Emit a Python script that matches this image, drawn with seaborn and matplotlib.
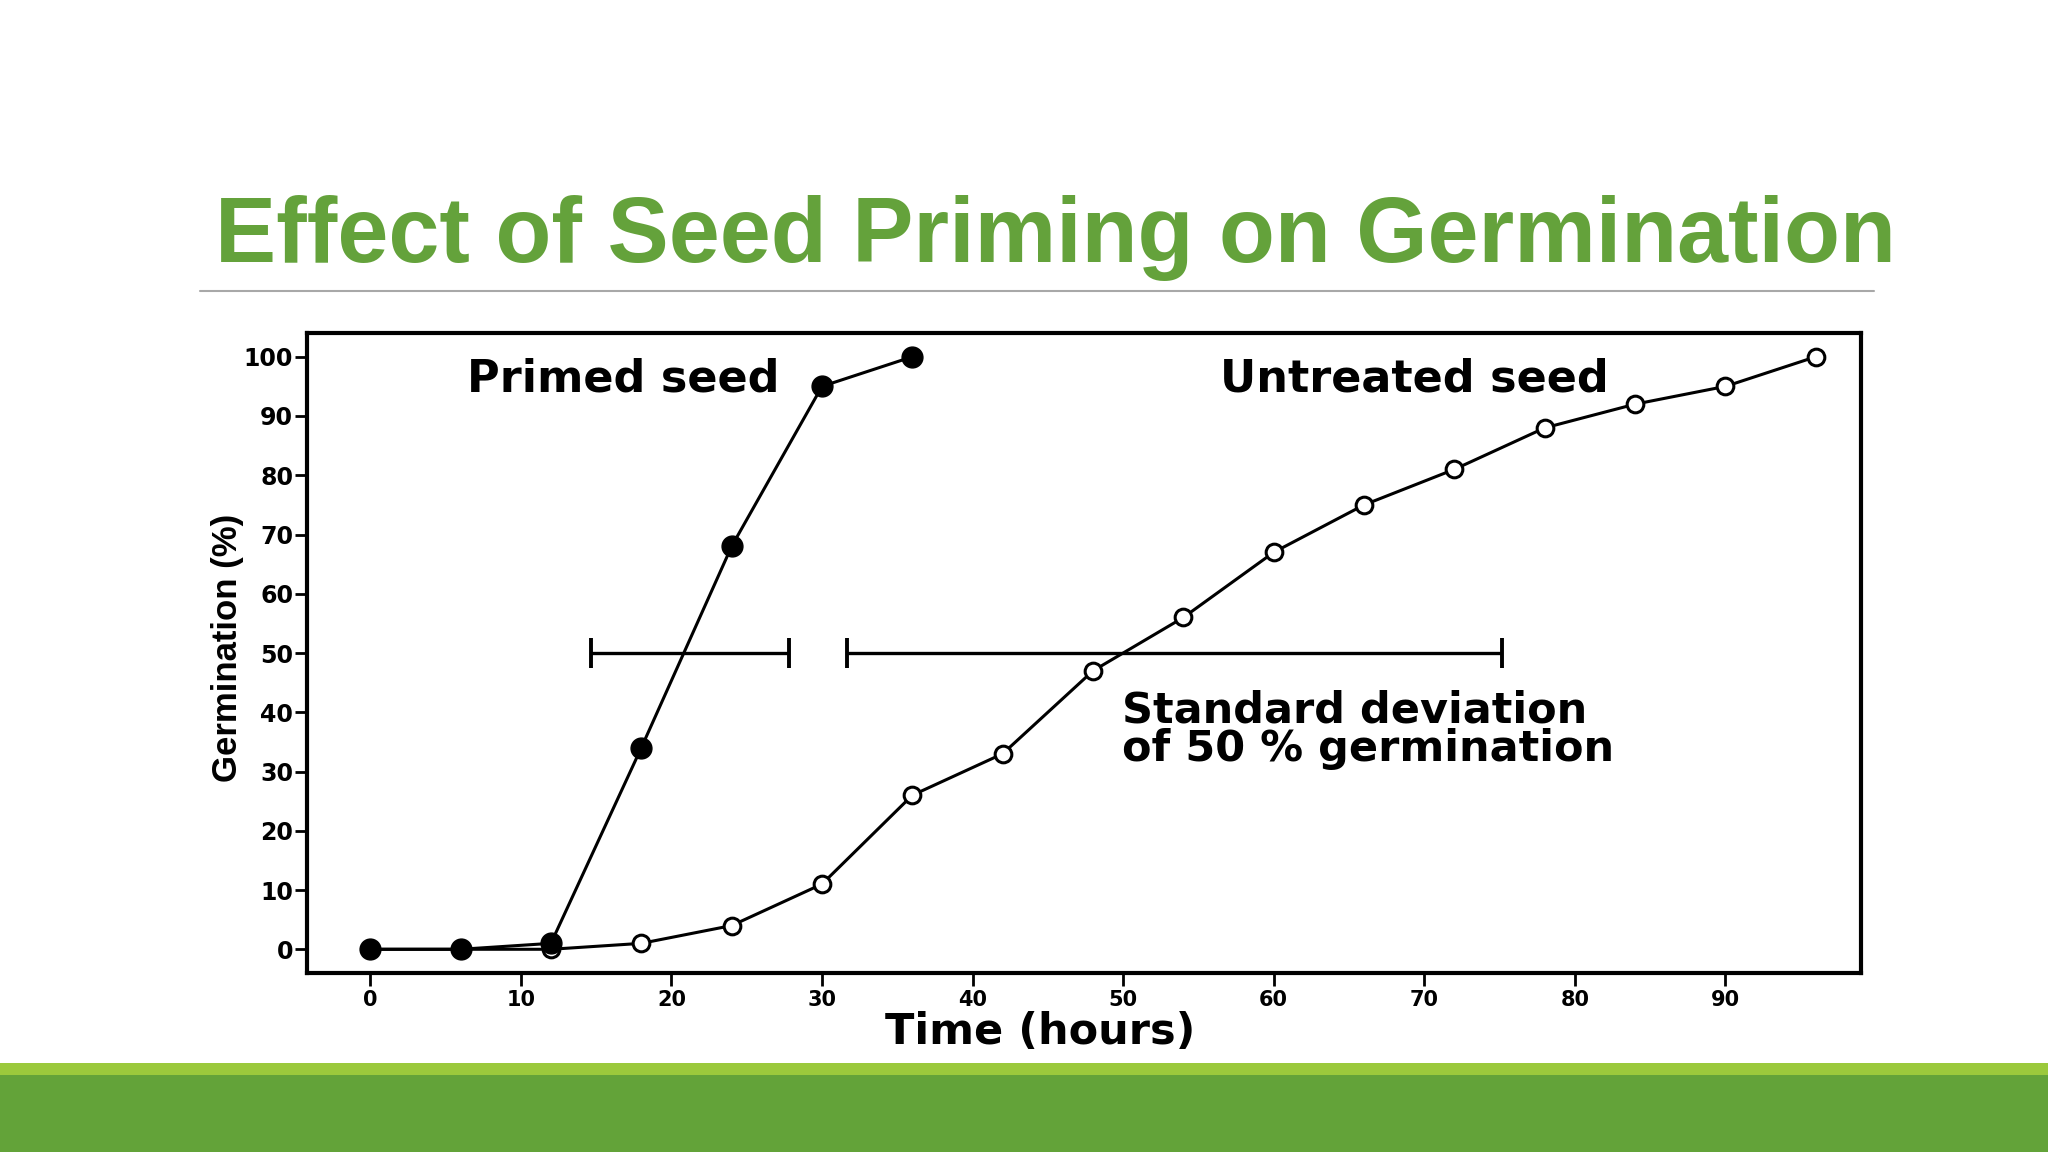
import matplotlib
matplotlib.use('Agg')
import matplotlib.pyplot as plt
import seaborn as sns
from matplotlib.lines import Line2D
from matplotlib.patches import Rectangle

# ---------------- data ----------------
primed_hours = [0, 6, 12, 18, 24, 30, 36]
primed_germ = [0, 0, 1, 34, 68, 95, 100]
untreated_hours = [0, 6, 12, 18, 24, 30, 36, 42, 48, 54, 60, 66, 72, 78, 84, 90, 96]
untreated_germ = [0, 0, 0, 1, 4, 11, 26, 33, 47, 56, 67, 75, 81, 88, 92, 95, 100]
sd_left = [14.65, 31.65]
sd_right = [27.83, 75.17]
sd_level = [50, 50]
x_ticks = list(range(0, 100, 10))
y_ticks = list(range(0, 101, 10))

title_text = "Effect of Seed Priming on Germination"
xlabel_text = "Time (hours)"
ylabel_text = "Germination (%)"
label_primed = "Primed seed"
label_untreated = "Untreated seed"
label_sd = "Standard deviation\nof 50 % germination"

# ---------------- style ----------------
sns.set_theme(style='white')
plt.rcParams['font.family'] = ['DejaVu Sans']
plt.rcParams['text.color'] = 'black'

fig = plt.figure(figsize=(20.48, 11.52), dpi=100)
fig.patch.set_facecolor('white')

# slide decorations
fig.text(215 / 2048, 1 - 262 / 1152, title_text, fontsize=66, fontweight='bold',
         family=['Liberation Sans', 'DejaVu Sans'], color='#64A23B', ha='left', va='baseline')
fig.add_artist(Line2D([200 / 2048, 1874 / 2048], [1 - 291 / 1152] * 2,
                      color='#A8A8A8', linewidth=1.5))
fig.add_artist(Rectangle((0, 0), 1, (1152 - 1075) / 1152, transform=fig.transFigure,
                         facecolor='#63A339', edgecolor='none'))
fig.add_artist(Rectangle((0, (1152 - 1075) / 1152), 1, 12 / 1152, transform=fig.transFigure,
                         facecolor='#9BC93C', edgecolor='none'))

ax = fig.add_axes([0.1499, 0.1554, 0.7588, 0.5555])
ax.set_facecolor('white')

sns.lineplot(x=untreated_hours, y=untreated_germ, ax=ax, color='black', linewidth=2.2,
             marker='o', markersize=12, markerfacecolor='white', markeredgecolor='black',
             markeredgewidth=2.2, estimator=None, sort=False, zorder=3)
sns.lineplot(x=primed_hours, y=primed_germ, ax=ax, color='black', linewidth=2.2,
             marker='o', markersize=15, markerfacecolor='black', markeredgecolor='black',
             markeredgewidth=1, estimator=None, sort=False, zorder=4)

sd_center = [(l + r) / 2 for l, r in zip(sd_left, sd_right)]
sd_half = [(r - l) / 2 for l, r in zip(sd_left, sd_right)]
ax.errorbar(x=sd_center, y=sd_level, xerr=sd_half, fmt='none', ecolor='black',
            elinewidth=2.4, capsize=11, capthick=2.8, zorder=2)

ax.set_xlim(-4.2, 99)
ax.set_ylim(-4, 104)
ax.set_xticks(x_ticks)
ax.set_yticks(y_ticks)

for s in ax.spines.values():
    s.set_visible(True)
    s.set_linewidth(3)
    s.set_color('black')

ax.tick_params(axis='both', direction='out', length=9, width=2, color='black',
               bottom=True, left=True, top=False, right=False)
ax.tick_params(axis='y', labelsize=17, pad=1)
ax.tick_params(axis='x', labelsize=15, pad=3)
for lbl in ax.get_xticklabels() + ax.get_yticklabels():
    lbl.set_fontweight('bold')
    lbl.set_color('black')

ax.text(6.42, 96.3, label_primed, fontsize=32, fontweight='bold', ha='left', va='center',
        color='black')
ax.text(56.4, 96.3, label_untreated, fontsize=32, fontweight='bold', ha='left', va='center',
        color='black')
ax.text(49.9, 37.0, label_sd, fontsize=31, fontweight='bold', ha='left', va='center',
        linespacing=0.9, color='black')

ax.set_xlabel(xlabel_text, fontsize=31, fontweight='bold', color='black')
ax.xaxis.set_label_coords(0.472, -0.06)
ax.set_ylabel(ylabel_text, fontsize=25, fontweight='bold', color='black',
              family=['Liberation Sans Narrow', 'Liberation Sans', 'DejaVu Sans'])
ax.yaxis.set_label_coords(-0.0405, 0.508)

fig.savefig('out.png', dpi=100)
